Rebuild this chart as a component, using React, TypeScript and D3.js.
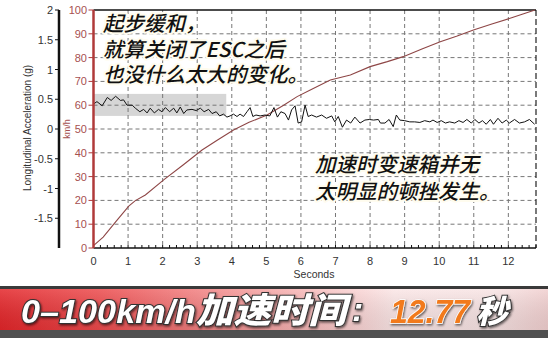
import React from 'react';
import * as d3 from 'd3';

const speedTime = [0, 0.28, 0.64, 1.02, 1.21, 1.5, 2.03, 2.6, 3.14, 3.6, 4.05, 4.5, 5.02, 5.5, 5.89, 6.27, 6.85, 7.43, 8.0, 8.5, 8.96, 9.5, 10.03, 10.5, 10.99, 11.5, 12.05, 12.4, 12.77];
const speedValues = [1, 4.6, 11, 17.6, 19.9, 22.3, 28.6, 35, 41.2, 45.5, 49.6, 52.8, 55.9, 60, 63.6, 66.4, 70.6, 72.7, 76.2, 78.3, 80.4, 83.6, 86.7, 89, 91.6, 94, 96.5, 98.2, 100];

const accelTime = [0, 0.1, 0.25, 0.4, 0.51, 0.64, 0.78, 0.87, 0.97, 1.12, 1.21, 1.34, 1.45, 1.55, 1.64, 1.76, 1.88, 1.98, 2.08, 2.2, 2.32, 2.41, 2.51, 2.61, 2.7, 2.85, 2.97, 3.09, 3.2, 3.33, 3.43, 3.55, 3.65, 3.76, 3.86, 3.95, 4.05, 4.15, 4.24, 4.34, 4.44, 4.53, 4.61, 4.7, 4.82, 4.96, 5.1, 5.22, 5.32, 5.42, 5.54, 5.64, 5.73, 5.83, 5.92, 6.02, 6.12, 6.21, 6.31, 6.45, 6.6, 6.74, 6.89, 6.98, 7.08, 7.2, 7.32, 7.44, 7.56, 7.71, 7.85, 7.98, 8.1, 8.24, 8.3, 8.43, 8.55, 8.67, 8.76, 8.86, 9.0, 9.15, 9.29, 9.44, 9.58, 9.73, 9.82, 9.94, 10.06, 10.18, 10.3, 10.45, 10.57, 10.69, 10.8, 10.93, 11.03, 11.15, 11.25, 11.36, 11.48, 11.57, 11.7, 11.82, 11.94, 12.03, 12.18, 12.32, 12.47, 12.61, 12.76];
const accelValues = [0.42, 0.46, 0.39, 0.53, 0.48, 0.55, 0.48, 0.49, 0.4, 0.4, 0.35, 0.29, 0.33, 0.27, 0.35, 0.27, 0.33, 0.29, 0.36, 0.29, 0.35, 0.27, 0.37, 0.26, 0.32, 0.33, 0.31, 0.35, 0.29, 0.33, 0.26, 0.29, 0.22, 0.25, 0.2, 0.22, 0.25, 0.21, 0.25, 0.21, 0.29, 0.36, 0.21, 0.235, 0.22, 0.235, 0.22, 0.36, 0.2, 0.29, 0.26, 0.15, 0.32, 0.39, 0.1, 0.12, 0.4, 0.21, 0.235, 0.2, 0.235, 0.18, 0.22, 0.12, 0.21, 0.03, 0.15, 0.1, 0.2, 0.1, 0.15, 0.16, 0.15, 0.16, 0.1, 0.1, 0.16, 0.04, 0.235, 0.15, 0.14, 0.12, 0.12, 0.11, 0.14, 0.12, 0.15, 0.11, 0.14, 0.1, 0.12, 0.1, 0.14, 0.11, 0.16, 0.1, 0.16, 0.1, 0.14, 0.08, 0.16, 0.08, 0.18, 0.1, 0.15, 0.1, 0.16, 0.1, 0.12, 0.16, 0.08];

const secondTicks = [0, 1, 2, 3, 4, 5, 6, 7, 8, 9, 10, 11, 12];
const speedTicks = [0, 10, 20, 30, 40, 50, 60, 70, 80, 90, 100];
const accelTicks = [2, 1.5, 1, 0.5, 0, -0.5, -1, -1.5];
const note1 = ['起步缓和，', '就算关闭了ESC之后', '也没什么太大的变化。'];
const note2 = ['加速时变速箱并无', '太明显的顿挫发生。'];
const highlight = { t0: 0, t1: 3.84, g0: 0.22, g1: 0.59 };

const W = 548, H = 338;
const plotL = 93.5, plotR = 536, plotT = 10, plotB = 248;

export default function App() {
  const x = d3.scaleLinear().domain([0, 12.8]).range([plotL, plotR]);
  const yS = d3.scaleLinear().domain([0, 100]).range([plotB, plotT]);
  const yA = d3.scaleLinear().domain([-2, 2]).range([plotB, plotT]);

  const speedLine = d3.line<number>().x((_, i) => x(speedTime[i])).y((d) => yS(d))(speedValues) || '';
  const accelLine = d3.line<number>().x((_, i) => x(accelTime[i])).y((d) => yA(d))(accelValues) || '';
  const minor = d3.range(0, 12.81, 0.2);

  const cjk = '"Noto Sans CJK SC", "Noto Sans", sans-serif';
  const latin = '"Liberation Sans", Arial, sans-serif';

  return (
    <div style={{ position: 'fixed', left: 0, top: 0 }}>
      <svg width={W} height={H} style={{ display: 'block', background: '#fff' }}>
        <defs>
          <linearGradient id="band" x1="0" x2="1" y1="0" y2="0">
            <stop offset="0%" stopColor="#e4262a" />
            <stop offset="18%" stopColor="#ec4a4c" />
            <stop offset="45%" stopColor="#f59a9a" />
            <stop offset="72%" stopColor="#fbe6e6" />
            <stop offset="90%" stopColor="#f8e4e4" />
            <stop offset="100%" stopColor="#f1cfcf" />
          </linearGradient>
          <linearGradient id="bandShade" x1="0" x2="0" y1="0" y2="1">
            <stop offset="0%" stopColor="#ffffff" stopOpacity="0.15" />
            <stop offset="100%" stopColor="#000000" stopOpacity="0.08" />
          </linearGradient>
          <filter id="shadow" x="-5%" y="-20%" width="110%" height="150%">
            <feDropShadow dx="1" dy="1.5" stdDeviation="0.8" floodColor="#000" floodOpacity="0.6" />
          </filter>
        </defs>

        {/* highlight box */}
        <rect x={x(highlight.t0)} y={yA(highlight.g1)} width={x(highlight.t1) - x(highlight.t0)} height={yA(highlight.g0) - yA(highlight.g1)} fill="#d6d6d6" />

        {/* grid */}
        {speedTicks.filter((v) => v > 0 && v < 100).map((v) => (
          <line key={'h' + v} x1={plotL} x2={plotR} y1={yS(v)} y2={yS(v)} stroke="#777" strokeWidth={1} strokeDasharray="4,3" />
        ))}
        {secondTicks.filter((t) => t > 0).map((t) => (
          <line key={'v' + t} x1={x(t)} x2={x(t)} y1={plotT} y2={plotB} stroke="#777" strokeWidth={1} strokeDasharray="4,3" />
        ))}
        <line x1={plotR} x2={plotR} y1={plotT} y2={plotB} stroke="#222" strokeWidth={1.2} strokeDasharray="6,3" />
        <line x1={plotL} x2={plotR} y1={plotT} y2={plotT} stroke="#111" strokeWidth={1.5} />

        {/* curves */}
        <path d={speedLine} fill="none" stroke="#8e4646" strokeWidth={1.1} />
        <path d={accelLine} fill="none" stroke="#111" strokeWidth={1} />

        {/* x axis */}
        <line x1={plotL} x2={plotR} y1={plotB} y2={plotB} stroke="#111" strokeWidth={1.5} />
        {minor.map((t, i) => (
          <line key={'m' + i} x1={x(t)} x2={x(t)} y1={plotB} y2={plotB - 3} stroke="#111" strokeWidth={1} />
        ))}
        {secondTicks.map((t) => (
          <text key={'xl' + t} x={x(t)} y={265} textAnchor="middle" fontFamily={latin} fontSize={11} fill="#333">{t}</text>
        ))}
        <text x={314} y={278} textAnchor="middle" fontFamily={latin} fontSize={10.5} fill="#333">Seconds</text>

        {/* speed axis */}
        <line x1={plotL} x2={plotL} y1={plotT} y2={plotB} stroke="#b03a3a" strokeWidth={2.5} />
        {speedTicks.map((v) => (
          <g key={'s' + v}>
            <line x1={plotL - 5} x2={plotL} y1={yS(v)} y2={yS(v)} stroke="#b03a3a" strokeWidth={1} />
            <text x={87} y={yS(v) + 4} textAnchor="end" fontFamily={latin} fontSize={11} fill="#a65050">{v}</text>
          </g>
        ))}
        <text transform={`translate(70,${yS(50)}) rotate(-90)`} textAnchor="middle" fontFamily={latin} fontSize={9} fill="#a65050">km/h</text>

        {/* accel axis */}
        <line x1={59} x2={59} y1={plotT} y2={plotB} stroke="#111" strokeWidth={2.5} />
        {accelTicks.map((g) => (
          <g key={'a' + g}>
            <line x1={55} x2={59} y1={yA(g)} y2={yA(g)} stroke="#111" strokeWidth={1} />
            <text x={53} y={yA(g) + 4} textAnchor="end" fontFamily={latin} fontSize={11} fill="#333">{g}</text>
          </g>
        ))}
        <text transform={`translate(31,128) rotate(-90)`} textAnchor="middle" fontFamily={latin} fontSize={10} fill="#333">Longitudinal Acceleration (g)</text>

        {/* annotations */}
        {note1.map((s, i) => (
          <text key={'n1' + i} x={103} y={31 + i * 25.5} fontFamily={cjk} fontSize={20.5} fontWeight={500} fontStyle="italic" fill="#111" stroke="#fffcee" strokeWidth={4} strokeLinejoin="round" paintOrder="stroke">{s}</text>
        ))}
        {note2.map((s, i) => (
          <text key={'n2' + i} x={315} y={172 + i * 27} fontFamily={cjk} fontSize={20.5} fontWeight={500} fontStyle="italic" fill="#111" stroke="#fffcee" strokeWidth={4} strokeLinejoin="round" paintOrder="stroke">{s}</text>
        ))}

        {/* banner */}
        <rect x={0} y={286} width={W} height={3} fill="#3a3a3a" />
        <rect x={0} y={289} width={W} height={41} fill="url(#band)" />
        <rect x={0} y={289} width={W} height={41} fill="url(#bandShade)" />
        <rect x={0} y={330} width={W} height={8} fill="#505050" />
        <g filter="url(#shadow)">
          <text x={21} y={323} fontFamily={latin} fontWeight={900} fontStyle="italic" fontSize={34} fill="#fff" stroke="#333" strokeWidth={2} paintOrder="stroke" textLength={175} lengthAdjust="spacingAndGlyphs">0–100km/h</text>
          <text x={196} y={323} fontFamily={cjk} fontWeight={900} fontStyle="italic" fontSize={35} fill="#fff" stroke="#333" strokeWidth={2} paintOrder="stroke" textLength={150} lengthAdjust="spacingAndGlyphs">加速时间</text>
          <text x={352} y={321} fontFamily={latin} fontWeight={900} fontStyle="italic" fontSize={34} fill="#fff" stroke="#333" strokeWidth={2} paintOrder="stroke">:</text>
          <text x={390} y={323} fontFamily={latin} fontWeight={900} fontStyle="italic" fontSize={34} fill="#f27a1a" stroke="#fff" strokeWidth={1.5} paintOrder="stroke" textLength={80} lengthAdjust="spacingAndGlyphs">12.77</text>
          <text x={476} y={323} fontFamily={cjk} fontWeight={900} fontStyle="italic" fontSize={32} fill="#fff" stroke="#333" strokeWidth={2} paintOrder="stroke">秒</text>
        </g>
      </svg>
    </div>
  );
}
